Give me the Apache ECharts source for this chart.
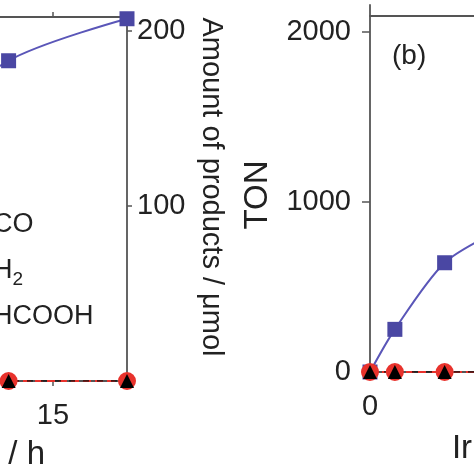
<!DOCTYPE html>
<html>
<head>
<meta charset="utf-8">
<script src="https://cdn.jsdelivr.net/npm/echarts@6/dist/echarts.min.js"></script>
<style>html,body{margin:0;padding:0;background:#fff}#c{width:474px;height:474px}</style>
</head>
<body>
<div id="c"></div>
<script>
// Panel (a): amount of products vs irradiation time
var timeA = [0, 3, 6, 12, 20];
var coA = [0, 95, 140, 183, 207];
var h2A = [0, 0, 0, 0, 0];
var hcoohA = [0, 0, 0, 0, 0];
var yTicksA = [0, 100, 200];
var yLabelsA = [100, 200];
var xTicksA = [0, 5, 10, 15, 20];
var xLabelsA = [0, 5, 10, 15];
// Panel (b): TON vs irradiation time
var timeB = [0, 1, 3, 5];
var tonB = [0, 251, 643, 820];
var h2B = [0, 0, 0, 0];
var hcoohB = [0, 0, 0, 0];
var yTicksB = [0, 1000, 2000];
var xTicksB = [0, 5, 10, 15];
var legendNames = ['CO', 'H2', 'HCOOH'];

function pairs(xs, ys) { return xs.map(function (x, i) { return [x, ys[i]]; }); }
function plain(v) { return String(v); }

var FONT = 'Liberation Sans';
var TXT = '#222';
var AX = '#555';
var BLUE = '#4a47a3';
var RED = '#e8322c';

function axisCommon(extra) {
  var o = {
    type: 'value',
    axisLine: { show: true, onZero: false, lineStyle: { color: AX, width: 1.8 } },
    splitLine: { show: false },
    axisTick: { show: true, inside: false, length: 5, lineStyle: { color: AX, width: 1.5 } },
    axisLabel: { show: true, fontSize: 29, fontFamily: FONT, color: TXT },
    nameTextStyle: { fontSize: 29, fontFamily: FONT, color: TXT }
  };
  for (var k in extra) o[k] = extra[k];
  return o;
}

var option = {
  animation: false,
  backgroundColor: '#fff',
  textStyle: { fontFamily: FONT },
  grid: [
    { left: -169, right: 347, top: 17, bottom: 93, outerBoundsMode: 'none', containLabel: false },
    { left: 370, right: -294, top: 5, bottom: 102, outerBoundsMode: 'none', containLabel: false }
  ],
  legend: {
    orient: 'vertical',
    left: -53, top: 210,
    padding: 0,
    itemWidth: 40, itemHeight: 16,
    itemGap: 13,
    data: legendNames,
    textStyle: {
      fontSize: 27, fontFamily: FONT, color: TXT, lineHeight: 30,
      rich: {
        n: { fontSize: 27, fontFamily: FONT, color: TXT, lineHeight: 36 },
        s: { fontSize: 19, fontFamily: FONT, color: TXT, lineHeight: 36, verticalAlign: 'bottom' }
      }
    },
    formatter: function (n) { return n === 'H2' ? '{n|H}{s|2}' : n; }
  },
  graphic: [
    { type: 'text', left: 392, top: 42, style: { text: '(b)', fontSize: 28, fontFamily: FONT, fill: TXT } }
  ],
  xAxis: [
    axisCommon({ gridIndex: 0, position: 'bottom', min: 0, max: 20, interval: 5,
      axisTick: { show: true, length: 5, customValues: xTicksA, lineStyle: { color: AX, width: 1.5 } },
      axisLabel: { fontSize: 29, fontFamily: FONT, color: TXT, margin: 20, customValues: xLabelsA, formatter: plain },
      name: 'Irradiation time / h', nameLocation: 'middle', nameGap: 57,
      nameTextStyle: { fontSize: 33, fontFamily: FONT, color: TXT, padding: [0, 132, 0, 0] } }),
    axisCommon({ gridIndex: 0, position: 'top', min: 0, max: 20, interval: 5,
      axisTick: { show: true, length: 5, customValues: xTicksA, lineStyle: { color: AX, width: 1.5 } },
      axisLabel: { show: false } }),
    axisCommon({ gridIndex: 1, position: 'bottom', min: 0, max: 16, interval: 5,
      axisTick: { show: true, length: 7, customValues: xTicksB, lineStyle: { color: AX, width: 1.5 } },
      axisLabel: { fontSize: 29, fontFamily: FONT, color: TXT, margin: 20, customValues: xTicksB, formatter: plain },
      name: 'Irradiation time / h', nameLocation: 'middle', nameGap: 60,
      nameTextStyle: { fontSize: 33, fontFamily: FONT, color: TXT, padding: [0, 0, 0, 30] } }),
    axisCommon({ gridIndex: 1, position: 'top', offset: -11, min: 0, max: 16, interval: 5,
      axisTick: { show: false }, axisLabel: { show: false } })
  ],
  yAxis: [
    axisCommon({ gridIndex: 0, position: 'left', min: 0, max: 208, interval: 100,
      axisTick: { show: false }, axisLabel: { show: false } }),
    axisCommon({ gridIndex: 0, position: 'right', min: 0, max: 208, interval: 100,
      axisTick: { show: true, length: 5, customValues: yTicksA, lineStyle: { color: AX, width: 1.5 } },
      axisLabel: { fontSize: 29, fontFamily: FONT, color: TXT, margin: 10, customValues: yLabelsA, formatter: plain, padding: [10, 0, 0, 0] },
      name: 'Amount of products / \u03bcmol', nameLocation: 'middle', nameGap: 68, nameRotate: -90,
      nameTextStyle: { fontSize: 29, fontFamily: FONT, color: TXT, padding: [0, 24, 0, 0] } }),
    axisCommon({ gridIndex: 1, position: 'left', min: 0, max: 2160, interval: 1000,
      axisTick: { show: true, length: 8, customValues: yTicksB, lineStyle: { color: AX, width: 1.5 } },
      axisLabel: { fontSize: 29, fontFamily: FONT, color: TXT, margin: 19, customValues: yTicksB, formatter: plain, padding: [6, 0, 0, 0] },
      name: 'TON', nameLocation: 'middle', nameGap: 96,
      nameTextStyle: { fontSize: 33, fontFamily: FONT, color: TXT, padding: [0, 13, 0, 0] } })
  ],
  series: [
    { name: 'CO', type: 'line', xAxisIndex: 0, yAxisIndex: 1, data: pairs(timeA, coA), smooth: 0.3,
      symbol: 'rect', symbolSize: 15, lineStyle: { color: '#5a56b8', width: 2 }, itemStyle: { color: BLUE } },
    { name: 'H2', type: 'line', xAxisIndex: 0, yAxisIndex: 1, data: pairs(timeA, h2A),
      symbol: 'circle', symbolSize: 18, lineStyle: { color: RED, width: 2, type: 'dashed' }, itemStyle: { color: RED } },
    { name: 'HCOOH', type: 'line', xAxisIndex: 0, yAxisIndex: 1, data: pairs(timeA, hcoohA),
      symbol: 'triangle', symbolSize: 14, lineStyle: { color: '#111', width: 1.5, type: [6, 8] }, itemStyle: { color: '#000' } },
    { name: 'CO', type: 'line', xAxisIndex: 2, yAxisIndex: 2, data: pairs(timeB, tonB), smooth: 0.3,
      symbol: 'rect', symbolSize: 15, lineStyle: { color: '#5a56b8', width: 2 }, itemStyle: { color: BLUE } },
    { name: 'H2', type: 'line', xAxisIndex: 2, yAxisIndex: 2, data: pairs(timeB, h2B),
      symbol: 'circle', symbolSize: 18, lineStyle: { color: RED, width: 2, type: 'dashed' }, itemStyle: { color: RED } },
    { name: 'HCOOH', type: 'line', xAxisIndex: 2, yAxisIndex: 2, data: pairs(timeB, hcoohB),
      symbol: 'triangle', symbolSize: 14, lineStyle: { color: '#111', width: 1.5, type: [6, 8] }, itemStyle: { color: '#000' } }
  ]
};

var chart = echarts.init(document.getElementById('c'), null, { renderer: 'canvas' });
chart.setOption(option);
</script>
</body>
</html>
